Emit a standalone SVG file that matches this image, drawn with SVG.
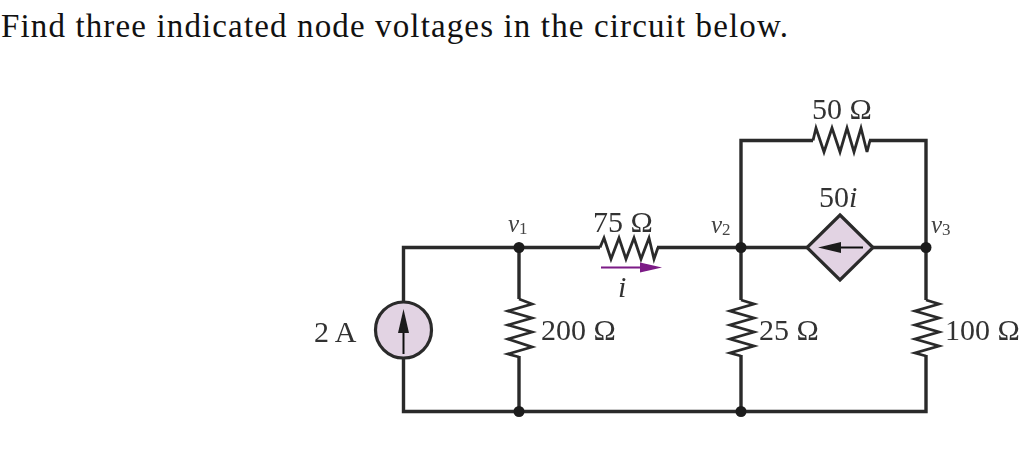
<svg xmlns="http://www.w3.org/2000/svg" width="1034" height="451" viewBox="0 0 1034 451">
<style>
.w{fill:none;stroke:#2b2b2b;stroke-width:3.4;stroke-linejoin:miter}
.r{fill:none;stroke:#2b2b2b;stroke-width:2.800;stroke-linejoin:miter}
.s{fill:#e2d3e3;stroke:#2b2b2b;stroke-width:3.2}
.d{fill:#1c1c1c}
.t{font-family:"Liberation Serif",serif;font-size:30px;fill:#333}
.v{font-family:"Liberation Serif",serif;font-size:25px;font-style:italic;fill:#444}
.b{font-family:"Liberation Serif",serif;font-size:17px;font-style:normal;fill:#444}
</style>
<defs><filter id="soft" x="-5%" y="-5%" width="110%" height="110%"><feGaussianBlur stdDeviation="0.7"/></filter></defs>
<rect width="1034" height="451" fill="#fff"/>
<text x="1" y="37" font-family="'Liberation Serif',serif" font-size="33" fill="#111" textLength="787" lengthAdjust="spacing">Find three indicated node voltages in the circuit below.</text>
<g filter="url(#soft)">
<g id="connectors">
<path class="w" d="M403.500 302V247.500H600M657 247.500H807M873 247.500H926M403.500 358V411.500H926V355M926 300V140.500H869M813 140.500H741V300M741 355V411.500M519 247.500V299M519 356V411.500"/>
</g>
<g id="source-2A">
<circle class="s" cx="403.500" cy="330" r="28"/>
<path d="M403.500 354V320" stroke="#111" stroke-width="2" fill="none"/>
<path class="d" d="M403.500 309L409 333H398Z"/>
<text class="t" x="314" y="342">2 A</text>
</g>
<g id="R-200">
<path class="r" d="M519 299L532 304L508 311L532 318L508 325L532 332L508 339L532 347L508 354L519 357"/>
<text class="t" x="541" y="340">200 Ω</text>
</g>
<g id="R-75">
<path class="r" d="M600 247.500L604 238L611 259L619 238L626 259L634 238L641 259L649 238L654 259L658 247.500"/>
<text class="t" x="593" y="232">75 Ω</text>
</g>
<g id="current-i">
<path d="M601 267.500H642" stroke="#7b1a86" stroke-width="2" fill="none"/>
<path d="M640 262.500L662 267.500L640 272.500Z" fill="#7b1a86"/>
<text class="t" x="618" y="297" font-style="italic">i</text>
</g>
<g id="R-25">
<path class="r" d="M741 300L754 304L730 311L754 318L730 325L754 332L730 339L754 346L730 353L741 356"/>
<text class="t" x="759" y="340">25 Ω</text>
</g>
<g id="R-100">
<path class="r" d="M926 300L939 304L915 311L939 318L915 325L939 332L915 339L939 346L915 353L926 356"/>
<text class="t" x="945" y="340">100 Ω</text>
</g>
<g id="R-50">
<path class="r" d="M813 140.500L816 128L824 152L832 128L840 152L847 128L854 152L861 128L867 152L870 140.500"/>
<text class="t" x="812" y="119">50 Ω</text>
</g>
<g id="source-50i">
<path class="s" d="M840 215L873 247.500L840 280L807 247.500Z"/>
<path d="M863 247.500H835" stroke="#111" stroke-width="2" fill="none"/>
<path class="d" d="M818 247.500L841 242V253Z"/>
<text class="t" x="819" y="207">50<tspan font-style="italic">i</tspan></text>
</g>
<g id="node-v1">
<circle class="d" cx="519" cy="247.500" r="5.500"/>
<text class="v" x="508" y="232">v<tspan class="b" dy="2">1</tspan></text>
</g>
<g id="node-v2">
<circle class="d" cx="741" cy="247.500" r="5.500"/>
<text class="v" x="711" y="233">v<tspan class="b" dy="2">2</tspan></text>
</g>
<g id="node-v3">
<circle class="d" cx="926" cy="247.500" r="5.500"/>
<text class="v" x="931" y="233">v<tspan class="b" dy="2">3</tspan></text>
</g>
<g id="node-b1"><circle class="d" cx="519" cy="411.500" r="5.500"/></g>
<g id="node-b2"><circle class="d" cx="741" cy="411.500" r="5.500"/></g>
</g>
</svg>
